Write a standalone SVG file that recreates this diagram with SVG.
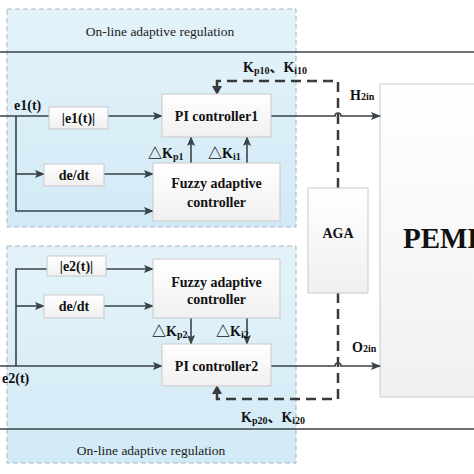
<svg xmlns="http://www.w3.org/2000/svg" width="474" height="474" viewBox="0 0 474 474">
<defs>
<linearGradient id="reg" x1="0" y1="0" x2="0" y2="1">
<stop offset="0" stop-color="#e4f3fa"/>
<stop offset="1" stop-color="#d2eaf5"/>
</linearGradient>
<linearGradient id="box" x1="0" y1="0" x2="0" y2="1">
<stop offset="0" stop-color="#ffffff"/>
<stop offset="1" stop-color="#f0f0f0"/>
</linearGradient>
<marker id="arr" markerUnits="userSpaceOnUse" markerWidth="10" markerHeight="8" refX="9" refY="4" orient="auto">
<path d="M0,0 L10,4 L0,8 L2,4 Z" fill="#3a434a"/>
</marker>
</defs>
<style>
.region{fill:url(#reg);stroke:#a9b4ba;stroke-width:1;stroke-dasharray:5,3}
.box{fill:url(#box);stroke:#c9c9c9;stroke-width:1}
.ln{fill:none;stroke:#3a434a;stroke-width:1.6}
.dash{fill:none;stroke:#3a3a3a;stroke-width:2.5;stroke-dasharray:10,6}
.t{font-family:"Liberation Serif","Noto Sans CJK SC",serif;font-weight:bold;font-size:14px;fill:#111}
.r{font-family:"Liberation Serif",serif;font-size:13.5px;fill:#222}
.sm{font-size:10px}
</style>
<rect width="474" height="474" fill="#ffffff"/>
<g id="region1"><rect class="region" x="7" y="9" width="289" height="218"/><text class="r" x="160" y="36" text-anchor="middle">On-line adaptive regulation</text></g>
<g id="region2"><rect class="region" x="7" y="246" width="289" height="217"/><text class="r" x="151" y="455" text-anchor="middle">On-line adaptive regulation</text></g>
<g id="pemfc"><rect class="box" x="380" y="84" width="110" height="313"/><text class="t" x="403" y="248" style="font-size:29px">PEMFC</text></g>
<g id="connectors">
<line class="ln" x1="0" y1="52" x2="474" y2="52"/>
<line class="ln" x1="0" y1="429" x2="474" y2="429"/>
<path class="ln" d="M0,116 H49"/>
<path class="ln" d="M108,116 H162" marker-end="url(#arr)"/>
<path class="ln" d="M16,116 V211 H153" marker-end="url(#arr)"/>
<path class="ln" d="M16,174 H44" marker-end="url(#arr)"/>
<path class="ln" d="M104,174 H153" marker-end="url(#arr)"/>
<path class="ln" d="M191,163 V137" marker-end="url(#arr)"/>
<path class="ln" d="M247,163 V137" marker-end="url(#arr)"/>
<path class="ln" d="M271,116 H335 a3,3 0 0 1 6,0 H380" marker-end="url(#arr)"/>
<path class="dash" d="M338,188 V81 H217 V92"/>
<path d="M212,86 L217,95 L222,86 Z" fill="#3a3a3a"/>
<path class="ln" d="M0,366 H162" marker-end="url(#arr)"/>
<path class="ln" d="M16,366 V269 H47"/>
<path class="ln" d="M106,269 H153" marker-end="url(#arr)"/>
<path class="ln" d="M16,306 H44" marker-end="url(#arr)"/>
<path class="ln" d="M104,306 H153" marker-end="url(#arr)"/>
<path class="ln" d="M191,318 V344" marker-end="url(#arr)"/>
<path class="ln" d="M247,318 V344" marker-end="url(#arr)"/>
<path class="ln" d="M271,366 H335 a3,3 0 0 1 6,0 H380" marker-end="url(#arr)"/>
<path class="dash" d="M338,293 V399 H217 V388"/>
<path d="M212,394 L217,385 L222,394 Z" fill="#3a3a3a"/>
</g>
<g id="labels">
<text class="t" x="14" y="110">e1(t)</text>
<text class="t" x="2" y="383">e2(t)</text>
<text class="t" x="148" y="158">△K<tspan class="sm" dy="2">p1</tspan></text>
<text class="t" x="208" y="158">△K<tspan class="sm" dy="2">i1</tspan></text>
<text class="t" x="152" y="336">△K<tspan class="sm" dy="2">p2</tspan></text>
<text class="t" x="216" y="336">△K<tspan class="sm" dy="2">i2</tspan></text>
<text class="t" x="243" y="72">K<tspan class="sm" dy="2">p10</tspan><tspan dy="-2">、K</tspan><tspan class="sm" dy="2">i10</tspan></text>
<text class="t" x="241" y="422">K<tspan class="sm" dy="2">p20</tspan><tspan dy="-2">、K</tspan><tspan class="sm" dy="2">i20</tspan></text>
<text class="t" x="350" y="100">H<tspan class="sm">2in</tspan></text>
<text class="t" x="352" y="352">O<tspan class="sm">2in</tspan></text>
</g>
<g id="abs1"><rect class="box" x="49" y="107" width="59" height="22"/><text class="t" x="78.5" y="123" text-anchor="middle">|e1(t)|</text></g>
<g id="dedt1"><rect class="box" x="44" y="164" width="60" height="22"/><text class="t" x="74" y="180" text-anchor="middle">de/dt</text></g>
<g id="pi1"><rect class="box" x="162" y="94" width="109" height="43"/><text class="t" x="216.5" y="121" text-anchor="middle">PI controller1</text></g>
<g id="fuzzy1"><rect class="box" x="153" y="163" width="127" height="58"/><text class="t" x="216.5" y="188" text-anchor="middle">Fuzzy adaptive</text><text class="t" x="216.5" y="207" text-anchor="middle">controller</text></g>
<g id="aga"><rect class="box" x="308" y="188" width="60" height="105"/><text class="t" x="338" y="238" text-anchor="middle">AGA</text></g>
<g id="abs2"><rect class="box" x="47" y="256" width="59" height="20"/><text class="t" x="76.5" y="271" text-anchor="middle">|e2(t)|</text></g>
<g id="dedt2"><rect class="box" x="44" y="295" width="60" height="23"/><text class="t" x="74" y="311" text-anchor="middle">de/dt</text></g>
<g id="fuzzy2"><rect class="box" x="153" y="259" width="127" height="59"/><text class="t" x="216.5" y="287" text-anchor="middle">Fuzzy adaptive</text><text class="t" x="216.5" y="304" text-anchor="middle">controller</text></g>
<g id="pi2"><rect class="box" x="162" y="344" width="109" height="42"/><text class="t" x="216.5" y="371" text-anchor="middle">PI controller2</text></g>
</svg>
